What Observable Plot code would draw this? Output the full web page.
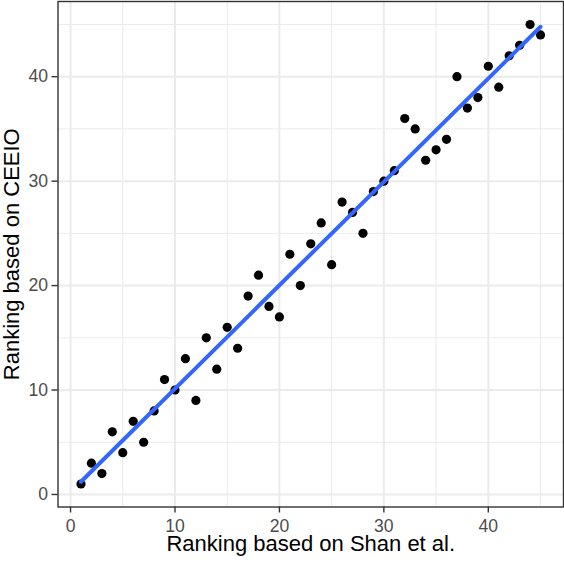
<!DOCTYPE html>
<html>
<head>
<meta charset="utf-8">
<script src="https://cdn.jsdelivr.net/npm/d3@7"></script>
<script src="https://cdn.jsdelivr.net/npm/@observablehq/plot@0.6"></script>
<style>
  html, body { margin: 0; padding: 0; background: #fff; }
  #chart svg { display: block; }
</style>
</head>
<body>
<div id="chart"></div>
<script>
const shanRank = [1,2,3,4,5,6,7,8,9,10,11,12,13,14,15,16,17,18,19,20,21,22,23,24,25,26,27,28,29,30,31,32,33,34,35,36,37,38,39,40,41,42,43,44,45];
const ceeioRank = [1,3,2,6,4,7,5,8,11,10,13,9,15,12,16,14,19,21,18,17,23,20,24,26,22,28,27,25,29,30,31,36,35,32,33,34,40,37,38,41,39,42,43,45,44];
const majorTicks = [0,10,20,30,40];
const minorTicks = [5,15,25,35,45];
const xTitle = "Ranking based on Shan et al.";
const yTitle = "Ranking based on CEEIO";

const data = shanRank.map((x, i) => ({x, y: ceeioRank[i]}));
const font = "'Liberation Sans', Arial, Helvetica, sans-serif";

const chart = Plot.plot({
  width: 564,
  height: 563,
  marginTop: 1,
  marginRight: 1,
  marginBottom: 56.5,
  marginLeft: 57.5,
  style: {fontFamily: font, background: "#fff"},
  x: {domain: [-1.2, 47.2]},
  y: {domain: [-1.2, 47.2]},
  marks: [
    Plot.gridX(minorTicks, {stroke: "#EBEBEB", strokeOpacity: 1, strokeWidth: 1}),
    Plot.gridY(minorTicks, {stroke: "#EBEBEB", strokeOpacity: 1, strokeWidth: 1}),
    Plot.gridX(majorTicks, {stroke: "#EBEBEB", strokeOpacity: 1, strokeWidth: 2}),
    Plot.gridY(majorTicks, {stroke: "#EBEBEB", strokeOpacity: 1, strokeWidth: 2}),
    Plot.dot(data, {x: "x", y: "y", r: 4.6, fill: "black", stroke: "none"}),
    Plot.linearRegressionY(data, {x: "x", y: "y", stroke: "#3366FF", strokeWidth: 4, ci: 0}),
    Plot.frame({stroke: "#333333", strokeWidth: 1.4}),
    Plot.axisX({ticks: majorTicks, tickSize: 6, tickPadding: 6, fontSize: 17.6, color: "#4D4D4D", stroke: "#333333", strokeWidth: 1.4, label: null}),
    Plot.axisY({ticks: majorTicks, tickSize: 6, tickPadding: 4, fontSize: 17.6, color: "#4D4D4D", stroke: "#333333", strokeWidth: 1.4, label: null}),
    Plot.text([xTitle], {frameAnchor: "bottom", textAnchor: "middle", lineAnchor: "top", dy: 28, fontSize: 22, fill: "black"}),
    Plot.text([yTitle], {frameAnchor: "left", textAnchor: "middle", lineAnchor: "top", rotate: -90, dx: -55, fontSize: 22, fill: "black"})
  ]
});
document.getElementById("chart").appendChild(chart);
</script>
</body>
</html>
